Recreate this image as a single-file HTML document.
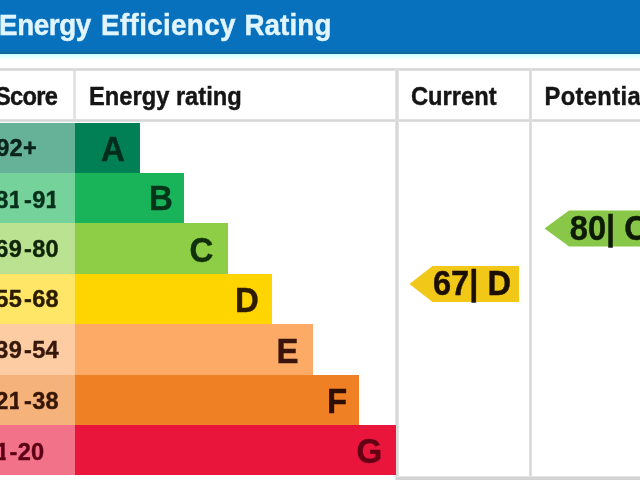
<!DOCTYPE html>
<html lang="en">
<head>
<meta charset="utf-8">
<title>Energy Efficiency Rating</title>
<style>
html,body{margin:0;padding:0;background:#fff;}
body{-webkit-text-stroke:0.4px;width:640px;height:480px;overflow:hidden;position:relative;font-family:"Liberation Sans",Arial,sans-serif;font-weight:bold;color:#111;}
.abs{position:absolute;}
#wrap{position:absolute;left:0;top:0;width:640px;height:480px;filter:blur(0.45px);}
#hdr{left:-10px;top:-10px;width:660px;height:64.3px;background:linear-gradient(to bottom,#0871be 0,#0871be 59px,#0b6ba8 62px,#12638e 64.3px);}
#halo{left:-10px;top:54.3px;width:660px;height:6px;background:linear-gradient(to bottom,#c8fbff 0,#e2ffff 40%,#fff 100%);}
#title{left:0;top:8px;width:640px;height:34px;font-size:27.8px;line-height:34px;color:#e1f5ff;white-space:nowrap;transform:scaleY(1.07);transform-origin:50% 50%;}
#title .w{position:absolute;top:0;}
.hl{background:linear-gradient(to bottom,#f0f0f0 0,#d6d6d6 25%,#d6d6d6 75%,#f0f0f0 100%);height:3.2px;left:-10px;width:660px;}
.vl{background:linear-gradient(to right,#f0f0f0 0,#d8d8d8 25%,#d8d8d8 75%,#f0f0f0 100%);width:3.2px;}
.th{font-size:23.7px;line-height:28px;top:81.6px;white-space:nowrap;color:#151515;transform:scaleY(1.12);transform-origin:50% 50%;}
.band{height:50.5px;}
.sc{left:-10px;width:85px;height:50.5px;}
.st{font-size:23.6px;letter-spacing:.25px;line-height:28px;white-space:nowrap;color:#1a1a1a;text-align:right;left:-40px;width:98.9px;transform:scaleY(1.05);transform-origin:50% 50%;}
.st i{font-style:normal;margin-left:2px;}
.st b{display:inline-block;clip-path:inset(0 3.3px 0 0);}
.lt{font-size:33px;line-height:36px;white-space:nowrap;transform:scaleY(1.05);transform-origin:50% 50%;}
.arr{font-size:32.6px;line-height:36px;white-space:nowrap;color:#1a0f00;transform:scaleY(1.09);transform-origin:50% 50%;}
</style>
</head>
<body>
<div id="wrap">
<div id="hdr" class="abs"></div>
<div id="halo" class="abs"></div>
<div id="title" class="abs"><span class="w" style="left:-1px;letter-spacing:-0.4px">Energy</span> <span class="w" style="left:101.1px;letter-spacing:0.33px">Efficiency</span> <span class="w" style="left:244.4px;letter-spacing:0.1px">Rating</span></div>

<div class="abs hl" style="top:68px"></div>
<div class="abs hl" style="top:118.7px"></div>
<div class="abs vl" style="left:72.9px;top:69px;height:52px;opacity:.8"></div>
<div class="abs vl" style="left:395.4px;top:69px;height:421px"></div>
<div class="abs vl" style="left:528.6px;top:69px;height:421px"></div>
<div class="abs hl" style="top:475.6px;left:396px;width:254px;height:16px;background:linear-gradient(to bottom,#f3f3f3 0,#d3d3d3 1.2px,#d3d3d3 100%)"></div>

<div class="abs th" style="left:-5px;letter-spacing:-0.7px">Score</div>
<div class="abs th" style="left:89px">Energy rating</div>
<div class="abs th" style="left:411px">Current</div>
<div class="abs th" style="left:544.5px;letter-spacing:0.38px">Potential</div>

<!-- score column -->
<div class="abs sc" style="top:122.6px;height:50px;background:#66b298"></div>
<div class="abs sc" style="top:172.5px;background:#75d29b"></div>
<div class="abs sc" style="top:223px;background:#bbe290"></div>
<div class="abs sc" style="top:273.5px;background:#ffe666"></div>
<div class="abs sc" style="top:324px;background:#fdcca3"></div>
<div class="abs sc" style="top:374.5px;background:#f5b37b"></div>
<div class="abs sc" style="top:425px;height:50px;background:#f27389"></div>

<!-- bands -->
<div class="abs band" style="left:75px;top:122.6px;height:50px;width:64.7px;background:#008054"></div>
<div class="abs band" style="left:75px;top:172.5px;width:109px;background:#19b459"></div>
<div class="abs band" style="left:75px;top:223px;width:153px;background:#8dce46"></div>
<div class="abs band" style="left:75px;top:273.5px;width:197px;background:#ffd500"></div>
<div class="abs band" style="left:75px;top:324px;width:238px;background:#fcaa65"></div>
<div class="abs band" style="left:75px;top:374.5px;width:284px;background:#ef8023"></div>
<div class="abs band" style="left:75px;top:425px;width:320.5px;height:50px;background:#e9153b"></div>

<!-- score text -->
<div class="abs st" style="top:134px;width:77px;color:#0b231b">92+</div>
<div class="abs st" style="top:186px;color:#06301a">8<b>1</b><i>-</i>9<b>1</b></div>
<div class="abs st" style="top:235px;color:#10240a">69<i>-</i>80</div>
<div class="abs st" style="top:285.2px;color:#2a1c00">55<i>-</i>68</div>
<div class="abs st" style="top:336px;color:#36180c">39<i>-</i>54</div>
<div class="abs st" style="top:387px;color:#361606">2<b>1</b><i>-</i>38</div>
<div class="abs st" style="top:438.4px;width:84.4px;color:#5c0016"><b>1</b><i style="margin-left:.5px">-</i>20</div>

<!-- letters -->
<div class="abs lt" style="left:101px;top:130.5px;color:#032c1d">A</div>
<div class="abs lt" style="left:149px;top:180.3px;color:#04351a">B</div>
<div class="abs lt" style="left:189.6px;top:232.3px;color:#12300a">C</div>
<div class="abs lt" style="left:235px;top:282.1px;color:#2e1c00">D</div>
<div class="abs lt" style="left:276.5px;top:332.9px;color:#3a140a">E</div>
<div class="abs lt" style="left:327px;top:382.6px;color:#2e0e00">F</div>
<div class="abs lt" style="left:356.5px;top:433.1px;color:#620014">G</div>

<!-- arrows -->
<svg class="abs" style="left:405px;top:262px" width="120" height="44" viewBox="405 262 120 44">
<polygon points="409.5,284 432.5,266 519,266 519,302 432.5,302" fill="#f1c718"/>
</svg>
<div class="abs arr" style="left:433px;top:265.4px">67| D</div>

<svg class="abs" style="left:540px;top:206px" width="120" height="44" viewBox="540 206 120 44">
<polygon points="544.5,228.4 569,210.4 660,210.4 660,246.4 569,246.4" fill="#88c748"/>
</svg>
<div class="abs arr" style="left:569.8px;top:209.9px;color:#0d1a05">80| C</div>
</div>
</body>
</html>
